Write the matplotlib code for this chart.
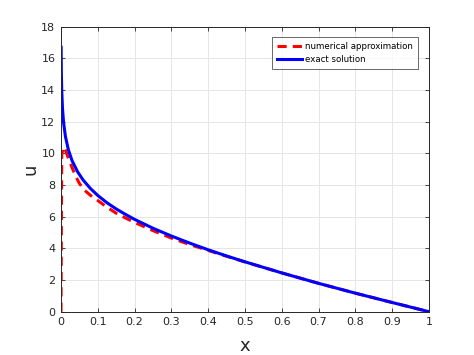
import matplotlib
matplotlib.use("Agg")
import matplotlib.pyplot as plt

# exact solution
x_exact = [0.0004, 0.001, 0.002, 0.004, 0.007, 0.012, 0.02, 0.03, 0.045, 0.06, 0.08, 0.1,
           0.125, 0.15, 0.175, 0.2, 0.25, 0.3, 0.35, 0.4, 0.45, 0.5, 0.6, 0.7, 0.8, 0.9, 1.0]
u_exact = [16.7, 15.05, 13.96, 12.86, 11.95, 11.07, 10.23, 9.54, 8.84, 8.32, 7.78, 7.34,
           6.88, 6.49, 6.15, 5.83, 5.27, 4.78, 4.33, 3.91, 3.52, 3.15, 2.45, 1.79, 1.17, 0.58, 0.0]

# numerical approximation
x_num = [0.0, 0.002, 0.006, 0.012, 0.02, 0.03, 0.04, 0.05, 0.065, 0.08, 0.1, 0.125, 0.15,
         0.175, 0.2, 0.25, 0.3, 0.35, 0.4, 0.45, 0.5, 0.6, 0.7, 0.8, 0.9, 1.0]
u_num = [0.0, 9.9, 10.4, 10.2, 9.7, 9.1, 8.55, 8.1, 7.65, 7.35, 7.02, 6.6, 6.22,
         5.92, 5.64, 5.12, 4.65, 4.24, 3.87, 3.5, 3.14, 2.45, 1.79, 1.17, 0.58, 0.0]

xticks = [0, 0.1, 0.2, 0.3, 0.4, 0.5, 0.6, 0.7, 0.8, 0.9, 1]
xticklabels = ["0", "0.1", "0.2", "0.3", "0.4", "0.5", "0.6", "0.7", "0.8", "0.9", "1"]
yticks = [0, 2, 4, 6, 8, 10, 12, 14, 16, 18]

axcol = "#262626"

fig = plt.figure(figsize=(4.74, 3.55), dpi=100)
ax = fig.add_axes([61/474, 1 - 311.7/355, (429 - 61)/474, (311.7 - 26.7)/355])

ax.plot(x_num, u_num, linestyle=(0, (3, 2)), color="#ff0000", lw=2.2, label="numerical approximation")
ax.plot(x_exact, u_exact, color="#0000ff", lw=2.2, label="exact solution")

ax.set_xlim(0, 1)
ax.set_ylim(0, 18)
ax.set_xticks(xticks)
ax.set_xticklabels(xticklabels)
ax.set_yticks(yticks)
ax.grid(True, color="#e6e6e6", lw=0.7)
ax.set_axisbelow(True)
for s in ax.spines.values():
    s.set_color(axcol)
    s.set_linewidth(0.7)
ax.tick_params(direction="in", length=3, width=0.6, colors=axcol, labelsize=8,
               top=True, right=True, pad=4)
ax.set_xlabel("x", fontsize=13, color=axcol, labelpad=7)
ax.set_ylabel("u", fontsize=13, color=axcol, labelpad=1)

leg = ax.legend(loc="upper right", bbox_to_anchor=(0.970, 0.964), borderaxespad=0,
                fontsize=6.2, frameon=True, fancybox=False, edgecolor="#262626",
                handlelength=2.9, borderpad=0.55, labelspacing=0.5, handletextpad=0.4)
leg.get_frame().set_linewidth(0.6)

fig.savefig("out.png", dpi=100)
